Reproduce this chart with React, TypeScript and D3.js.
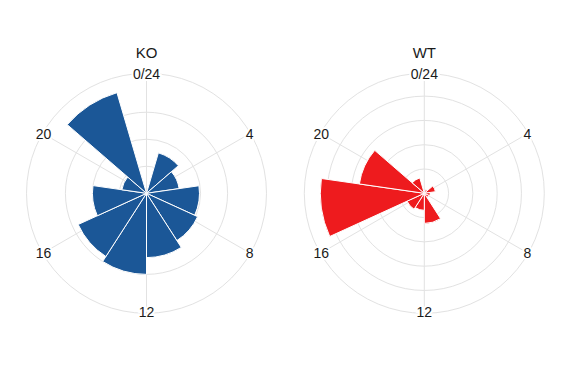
import React from "react";
import * as d3 from "d3";

const bins = ["0", "2", "4", "6", "8", "10", "12", "14", "16", "18", "20"];
const koValues = [0, 0.078, 0.061, 0.098, 0.104, 0.119, 0.15, 0.139, 0.1, 0.046, 0.194];
const wtValues = [0, 0.008, 0.023, 0.012, 0.01, 0.062, 0.035, 0.039, 0.214, 0.135, 0.033];
const koTicks = [0.05, 0.1, 0.15];
const wtTicks = [0.05, 0.1, 0.15, 0.2];
const koMax = 0.222;
const wtMax = 0.247;
const hourTicks = [0, 4, 8, 12, 16, 20];
const hourLabels = ["0/24", "4", "8", "12", "16", "20"];

const W = 576;
const H = 384;
const R = 120;
const GRID = "#e2e2e2";

type PanelProps = {
  cx: number;
  cy: number;
  title: string;
  values: number[];
  ticks: number[];
  max: number;
  color: string;
};

function Panel({ cx, cy, title, values, ticks, max, color }: PanelProps) {
  const r = d3.scaleLinear().domain([0, max]).range([0, R]);
  const band = d3
    .scaleBand<string>()
    .domain(bins)
    .range([-Math.PI / bins.length, 2 * Math.PI - Math.PI / bins.length])
    .paddingInner(0)
    .paddingOuter(0);
  const hour = d3.scaleLinear().domain([0, 24]).range([0, 2 * Math.PI]);
  const arc = d3.arc<any>();

  return (
    <g transform={`translate(${cx},${cy})`}>
      {ticks.map((t) => (
        <circle key={t} r={r(t)} fill="none" stroke={GRID} strokeWidth={1} />
      ))}
      <circle r={R} fill="none" stroke={GRID} strokeWidth={1} />
      {hourTicks.map((h) => {
        const a = hour(h);
        return (
          <line
            key={h}
            x1={0}
            y1={0}
            x2={R * Math.sin(a)}
            y2={-R * Math.cos(a)}
            stroke={GRID}
            strokeWidth={1}
          />
        );
      })}
      {bins.map((b, i) => {
        const v = values[i];
        if (v <= 0) return null;
        const s = band(b) as number;
        const path = arc({
          innerRadius: 0,
          outerRadius: r(v),
          startAngle: s,
          endAngle: s + band.bandwidth(),
        });
        return (
          <path key={b} d={path || ""} fill={color} stroke="#ffffff" strokeWidth={1} />
        );
      })}
      {hourTicks.map((h, i) => {
        const a = hour(h);
        const rr = R - 1;
        return (
          <text
            key={h}
            x={rr * Math.sin(a)}
            y={-rr * Math.cos(a)}
            textAnchor="middle"
            dominantBaseline="central"
            fontFamily="'Liberation Sans', Arial, sans-serif"
            fontSize={14}
            fill="#1a1a1a"
            stroke="#ffffff"
            strokeWidth={4}
            paintOrder="stroke"
          >
            {hourLabels[i]}
          </text>
        );
      })}
      <text
        x={0}
        y={-R - 21}
        textAnchor="middle"
        dominantBaseline="central"
        fontFamily="'Liberation Sans', Arial, sans-serif"
        fontSize={15}
        fill="#1a1a1a"
      >
        {title}
      </text>
    </g>
  );
}

export default function App() {
  return (
    <svg
      width={W}
      height={H}
      style={{ position: "absolute", left: 0, top: 0, background: "#ffffff" }}
    >
      <Panel cx={146.5} cy={193.3} title="KO" values={koValues} ticks={koTicks} max={koMax} color="#1b5797" />
      <Panel cx={424.3} cy={193.3} title="WT" values={wtValues} ticks={wtTicks} max={wtMax} color="#ee1b1e" />
    </svg>
  );
}
